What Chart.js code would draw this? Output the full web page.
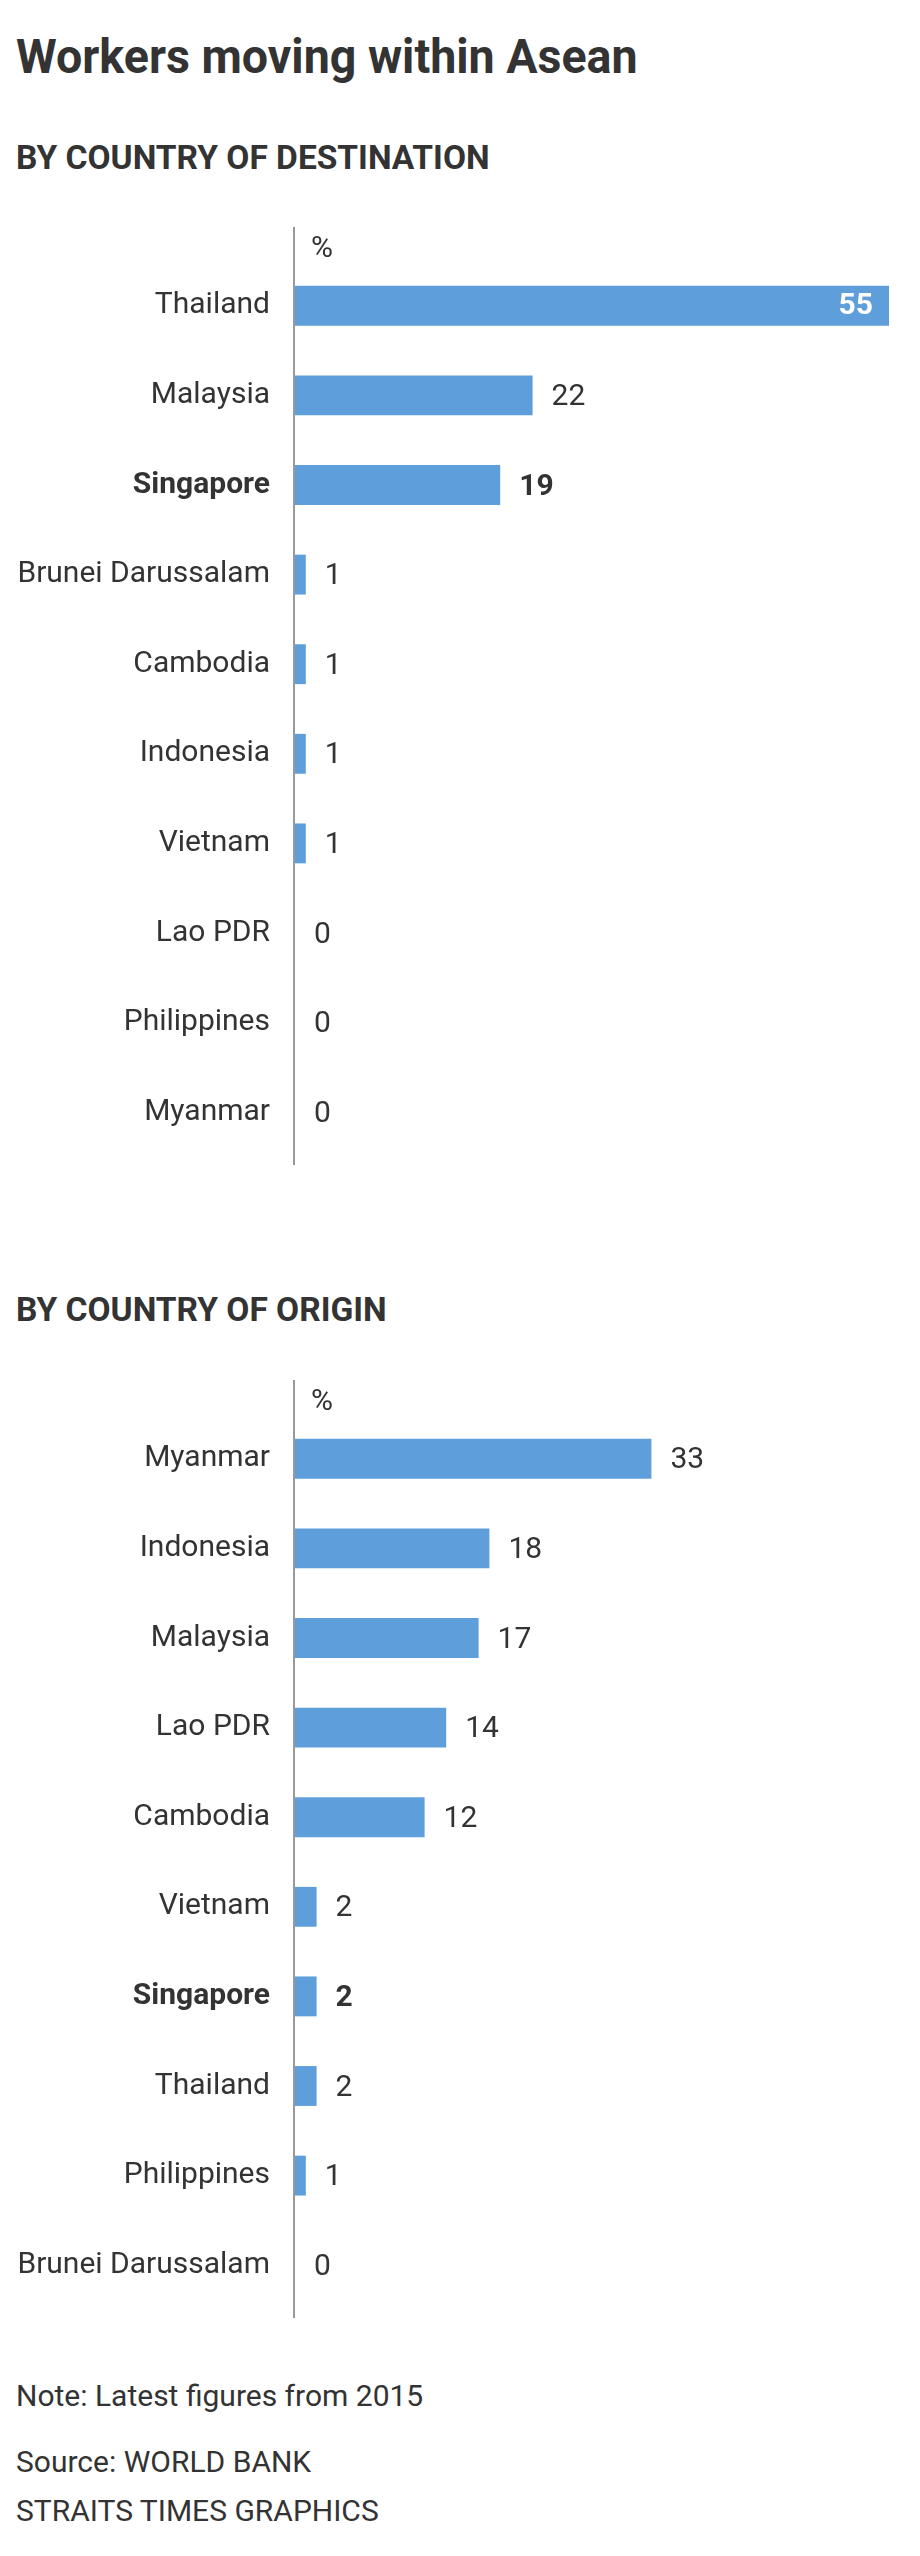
<!DOCTYPE html>
<html>
<head>
<meta charset="utf-8">
<script src="https://cdn.jsdelivr.net/npm/chart.js@4.4.1/dist/chart.umd.min.js"></script>
<style>
  html, body { margin: 0; padding: 0; background: #ffffff; }
  body { width: 920px; height: 2556px; position: relative; overflow: hidden; font-family: Roboto, "Liberation Sans", sans-serif; color: #333333; }
  .txt { position: absolute; left: 16px; white-space: nowrap; line-height: 1; }
  #title { top: 33px; font-size: 48px; font-weight: bold; color: #333333; transform: scaleX(0.97); transform-origin: left top; }
  .hdr { font-size: 33.5px; font-weight: bold; color: #333333; }
  #h1 { top: 141px; }
  #h2 { top: 1293px; }
  .foot { font-size: 30px; color: #333333; }
  #note { top: 2381px; }
  #src { top: 2447px; }
  #st { top: 2496px; }
  .cwrap { position: absolute; left: 0; width: 920px; height: 1000px; }
  #w1 { top: 200px; }
  #w2 { top: 1353px; }
</style>
</head>
<body>
<div class="txt" id="title">Workers moving within Asean</div>
<div class="txt hdr" id="h1">BY COUNTRY OF DESTINATION</div>
<div class="txt hdr" id="h2">BY COUNTRY OF ORIGIN</div>
<div class="cwrap" id="w1"><canvas id="c1" width="920" height="1000"></canvas></div>
<div class="cwrap" id="w2"><canvas id="c2" width="920" height="1000"></canvas></div>
<div class="txt foot" id="note">Note: Latest figures from 2015</div>
<div class="txt foot" id="src">Source: WORLD BANK</div>
<div class="txt foot" id="st">STRAITS TIMES GRAPHICS</div>

<script>
// ---- data ----
const destCategories = ["Thailand", "Malaysia", "Singapore", "Brunei Darussalam", "Cambodia", "Indonesia", "Vietnam", "Lao PDR", "Philippines", "Myanmar"];
const destValues = [55, 22, 19, 1, 1, 1, 1, 0, 0, 0];
const originCategories = ["Myanmar", "Indonesia", "Malaysia", "Lao PDR", "Cambodia", "Vietnam", "Singapore", "Thailand", "Philippines", "Brunei Darussalam"];
const originValues = [33, 18, 17, 14, 12, 2, 2, 2, 1, 0];
const highlightCategory = "Singapore";
const unitLabel = "%";
const axisMin = 0;
const axisMax = 55;

// ---- styles ----
const BAR_COLOR = "#5d9edb";
const TEXT_COLOR = "#333333";
const AXIS_COLOR = "#999999";
const FONT = "Roboto";

const decorPlugin = {
  id: "decor",
  beforeDatasetsDraw(chart) {
    const { ctx, chartArea } = chart;
    ctx.save();
    ctx.strokeStyle = AXIS_COLOR;
    ctx.lineWidth = 2;
    ctx.beginPath();
    ctx.moveTo(chartArea.left - 1, chartArea.top - 34);
    ctx.lineTo(chartArea.left - 1, chartArea.bottom + 8);
    ctx.stroke();
    ctx.fillStyle = TEXT_COLOR;
    ctx.font = "30px " + FONT;
    ctx.textAlign = "left";
    ctx.textBaseline = "middle";
    ctx.fillText(unitLabel, chartArea.left + 16, chartArea.top - 12);
    ctx.restore();
  },
  afterDatasetsDraw(chart) {
    const { ctx, chartArea } = chart;
    const cats = chart.data.labels;
    const meta = chart.getDatasetMeta(0);
    const vals = chart.data.datasets[0].data;
    ctx.save();
    ctx.textBaseline = "middle";
    meta.data.forEach((bar, i) => {
      const bold = cats[i] === highlightCategory;
      const txt = String(vals[i]);
      ctx.font = (bold ? "bold " : "") + "30px " + FONT;
      const w = ctx.measureText(txt).width;
      if (bar.x + 18 + w > chartArea.right) {
        ctx.font = "bold 30px " + FONT;
        ctx.fillStyle = "#ffffff";
        ctx.textAlign = "right";
        ctx.fillText(txt, bar.x - 16, bar.y + 1);
      } else {
        ctx.fillStyle = TEXT_COLOR;
        ctx.textAlign = "left";
        ctx.fillText(txt, bar.x + 19, bar.y + 2);
      }
    });
    ctx.restore();
  }
};

function makeChart(id, cats, vals, padBottom) {
  return new Chart(document.getElementById(id), {
    type: "bar",
    data: {
      labels: cats,
      datasets: [{
        data: vals,
        backgroundColor: BAR_COLOR,
        borderWidth: 0,
        categoryPercentage: 1.0,
        barPercentage: 0.445
      }]
    },
    options: {
      indexAxis: "y",
      responsive: false,
      animation: false,
      events: [],
      layout: { padding: { top: 61, bottom: padBottom, left: 0, right: 31 } },
      plugins: { legend: { display: false }, tooltip: { enabled: false } },
      scales: {
        x: { display: false, min: axisMin, max: axisMax },
        y: {
          grid: { display: false, drawTicks: false },
          border: { display: false },
          ticks: {
            color: TEXT_COLOR,
            padding: 25,
            font: (c) => ({ family: FONT, size: 30, weight: cats[c.index] === highlightCategory ? "bold" : "normal" })
          },
          afterFit: (scale) => { scale.width = 295; }
        }
      }
    },
    plugins: [decorPlugin]
  });
}

makeChart("c1", destCategories, destValues, 41);
makeChart("c2", originCategories, originValues, 42);
</script>
</body>
</html>
